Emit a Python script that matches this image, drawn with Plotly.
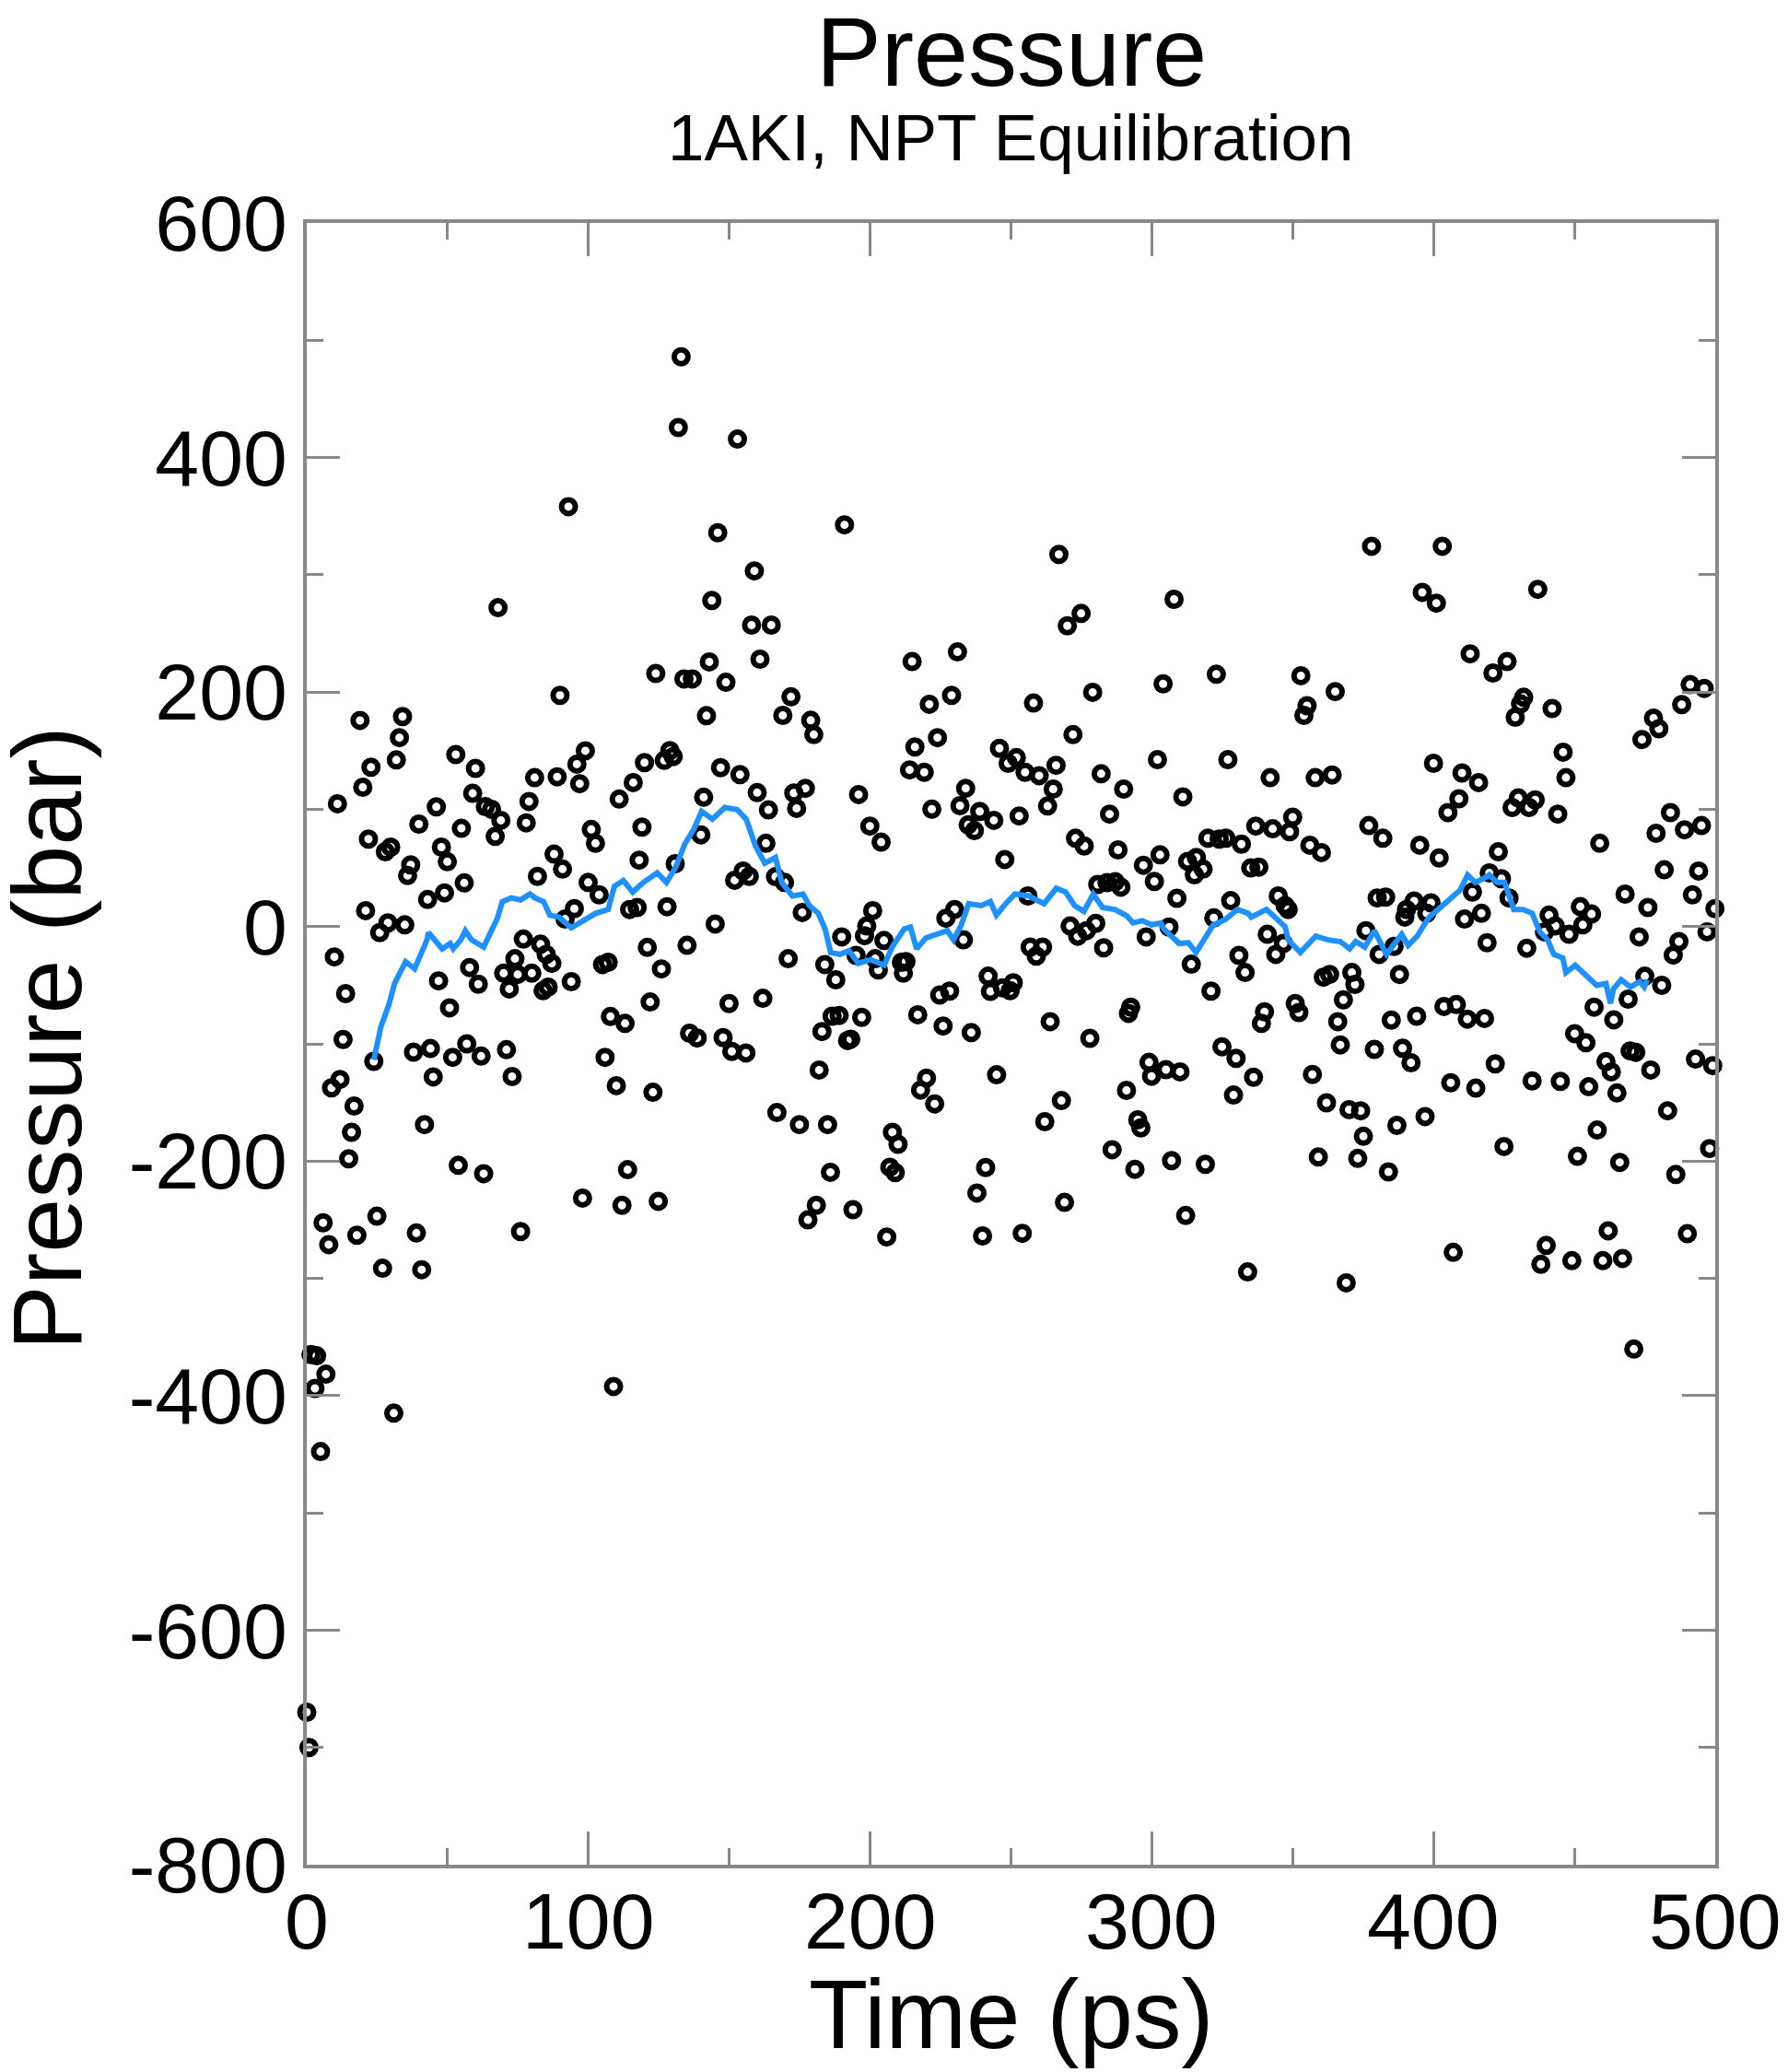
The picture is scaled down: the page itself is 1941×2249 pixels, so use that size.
import plotly.graph_objects as go

# ---- data (time in ps, pressure in bar) ----
time_ps = [
    0, 0.8, 1.5, 3.5, 2.9, 4.9, 5.8, 6.8, 7.8, 8.8, 9.8, 10.9, 11.8, 12.9, 13.8, 14.9, 15.9, 16.8, 17.8, 18.9,
    19.9, 20.9, 21.9, 22.8, 23.8, 24.9, 25.9, 26.9, 27.9, 28.8, 29.8, 30.9, 31.8, 32.9, 34.0, 34.8, 35.8, 36.9,
    37.9, 38.9, 39.8, 40.8, 41.8, 42.9, 43.9, 44.9, 46.0, 46.8, 47.8, 48.9, 49.9, 50.7, 51.8, 52.9, 53.8, 54.9,
    55.9, 56.8, 57.8, 58.9, 59.9, 60.9, 61.9, 62.8, 63.4, 65.6, 66.9, 67.9, 68.9, 69.9, 70.9, 71.9, 72.9, 73.9,
    74.9, 75.9, 76.9, 77.9, 78.9, 79.9, 80.9, 81.9,
    132.9, 131.9, 152.9, 92.9, 145.9, 158.9, 143.8, 157.9, 164.9, 160.9, 142.9, 123.9, 133.9, 136.9, 148.8, 89.9,
    141.9, 98.9, 95.9, 96.9, 88.9, 119.9, 115.9, 110.9, 126.9, 128.9, 130.1, 146.9, 153.8, 159.9, 163.9, 140.9,
    101.0, 102.5, 119.0, 87.8, 90.8, 118.0, 99.9, 103.8, 130.8, 139.9, 163.0, 151.9, 154.9, 157.1, 95.0, 91.7,
    114.6, 117.3, 127.9, 145.0,
    83.0, 85.0, 87.0, 83.9, 85.7, 93.9, 105.0, 107.0, 120.9, 135.0, 125.9, 121.9, 107.8, 113.0, 105.9, 109.9,
    122.9, 135.9, 138.6, 149.9, 161.9, 147.8, 150.9, 155.9, 113.9, 97.9, 111.9, 124.8, 108.9,
    190.9, 214.9, 231.0, 228.9, 221.0, 171.9, 169.0, 178.9, 180.0, 223.9, 215.9, 214.0, 219.2, 245.9, 249.0,
    177.0, 172.9, 173.9, 195.9, 233.9, 231.9, 221.9, 238.9, 243.9, 234.8, 237.0, 199.9, 203.9, 247.8, 166.4,
    169.6, 175.9, 200.9, 230.0, 226.9,
    198.8, 198.0, 189.9, 204.9, 233.1, 170.9, 183.9, 187.8, 195.0, 201.8, 202.9, 211.1, 212.7, 211.8, 241.9,
    242.7, 247.0, 224.7, 228.2, 216.9, 225.9, 235.9, 186.5, 189.0, 197.0, 182.9, 192.0, 193.1, 181.9, 220.0,
    217.9, 222.9, 244.9, 166.9, 174.9, 184.9, 207.9, 209.9, 207.0, 208.9, 185.9, 241.0, 237.9, 180.9, 177.9,
    193.9, 205.9, 239.9,
    267.0, 307.9, 274.9, 270.0, 322.9, 304.0, 279.0, 258.0, 272.0, 251.9, 255.0, 260.0, 266.0, 265.0, 263.0,
    252.9, 282.0, 290.0, 285.0, 302.0, 327.0, 311.0, 272.9, 276.0, 288.0, 319.9, 323.9, 326.3, 331.8, 297.0,
    302.9, 300.9, 312.7, 315.8, 315.1, 318.2, 280.8, 284.1, 287.0, 289.0, 308.9, 328.0, 256.0, 322.0,
    271.0, 280.1, 276.8, 273.7, 306.1, 298.0, 282.9, 256.8, 261.2, 259.0, 250.8, 249.7, 314.0, 321.0, 330.9,
    333.1, 292.5, 291.7, 263.9, 278.0, 299.0, 299.9, 305.0, 310.0, 324.9, 329.9, 329.0, 291.0, 267.9, 262.0,
    295.0, 296.1, 285.9, 294.0, 307.0, 319.0, 269.0, 312.0, 254.0,
    378.0, 403.1, 396.0, 401.0, 413.0, 352.9, 365.1, 355.1, 354.0, 342.0, 358.0, 364.0, 400.0, 410.1, 416.0,
    409.0, 405.1, 350.0, 348.9, 336.9, 342.9, 356.1, 360.2, 377.0, 382.0, 395.1, 402.0, 335.1, 338.0, 344.9,
    347.3, 348.4, 380.0, 383.0, 393.1, 390.4, 389.8, 399.1, 397.6, 413.8, 411.0,
    341.0, 346.7, 344.0, 376.0, 380.7, 386.0, 387.9, 360.9, 363.1, 371.0, 372.1, 368.0, 366.0, 366.9, 350.9,
    352.2, 340.0, 338.9, 385.0, 394.0, 403.7, 408.1, 412.0, 379.0, 389.0, 392.0, 336.1, 357.0, 362.0, 370.0,
    374.1, 375.1, 387.0, 397.0, 406.1, 415.0, 359.1, 373.1, 384.0, 334.0, 369.0, 407.0,
    437.0, 421.1, 426.1, 432.0, 430.9, 429.0, 442.1, 446.0, 447.0, 491.1, 496.1, 488.1, 478.1, 480.0, 474.0,
    430.1, 427.9, 433.9, 436.1, 444.1, 484.1, 479.0, 489.1, 495.1, 459.0, 423.0, 419.8, 424.1, 426.8, 481.9,
    494.1, 417.0, 468.0, 476.1, 491.9, 499.9, 441.0, 443.2, 452.1, 456.1, 453.0,
    439.4, 448.1, 419.0, 433.1, 473.0, 487.1, 485.1, 497.1, 475.0, 481.0, 469.1, 457.0, 464.0, 418.1, 450.1,
    454.1, 469.8, 471.8, 461.2, 463.1, 477.1, 493.0, 499.1, 421.9, 435.0, 445.0, 455.1, 465.1, 483.1, 458.1,
    425.0, 451.1, 466.1, 486.0, 498.0, 462.0, 490.1, 440.0, 438.1, 449.1, 460.1, 467.1, 471.1,
]

pressure_bar = [
    -670, -700, -365, -366, -393.8, -447.7, -252.6, -381.7, -271.2, -137.5, -25.9, 104.7, -130.4, -96.3, -57.2,
    -198.0, -175.4, -153.0, -263.2, 175.8, 118.8, 13.6, 74.6, 135.9, -114.9, -247.0, -5.1, -291.4, 63.8, 3.1,
    67.7, -414.9, 142.1, 161.1, 179.1, 1.5, 43.5, 52.6, -107.1, -261.3, 87.4, -292.6, -168.9, 23.1, -104.0,
    -128.2, 102.1, -46.3, 67.7, 28.7, 55.3, -69.3, -111.5, 146.7, -203.6, 83.8, 37.2, -100.0, -34.9, 113.6,
    134.9, -49.1, -110.5, -210.7, 102.3, 100.0, 76.9, 271.9, 90.6, -39.8, -105.0, -53.2, -127.9, -27.4, -40.8,
    -260.1, -10.7, 88.4, 106.7, -39.8, 127.0, 42.8,
    485.9, 425.6, 415.7, 358.1, 335.8, 303.3, 278.1, 257.1, 257.1, 228.0, 225.7, 215.8, 211.2, 211.2, 208.3,
    197.2, 179.8, 149.9, 138.5, 121.8, 127.7, 139.8, 122.8, 108.7, 141.7, 150.0, 145.0, 135.5, 129.6, 114.2,
    99.5, 110.3, 82.8, 71.0, 84.8, 61.8, 49.0, 56.6, 37.6, 27.1, 53.6, 78.2, 71.0, 39.5, 47.4, 42.8, 15.3,
    6.4, 14.6, 16.3, 16.9, 2.2,
    -15.0, -23.7, -31.4, -54.7, -51.6, -47.0, -32.4, -30.5, -17.8, -16.0, -36.1, -64.3, -76.7, -82.6, -111.5,
    -135.7, -141.3, -91.0, -95.0, -65.6, -61.2, -94.7, -106.5, -107.8, -207.3, -231.5, -237.7, -234.3, -392.2,
    342.6, 226.0, 234.2, 197.2, 189.6, 195.9, 180.1, 175.9, 163.7, 161.1, 153.2, 133.6, 131.6, 152.0, 139.2,
    117.9, 113.9, 100.8, 112.6, 117.9, 103.1, 100.1, 98.2, 90.6, 86.7, 81.8, 85.7, 72.0, 57.2, 42.5, 37.6,
    12.0, 13.6, 14.6, 7.1,
    0.5, -7.8, -8.8, -11.9, -11.3, -27.4, -32.4, -45.4, -24.6, -27.4, -37.0, -30.5, -29.9, -39.8, -42.3,
    -55.3, -52.2, -58.4, -55.0, -75.2, -84.8, -90.4, -76.4, -75.8, -77.4, -89.5, -97.2, -96.0, -122.3, -129.2,
    -139.4, -151.2, -126.4, -158.6, -168.9, -168.9, -175.4, -185.6, -205.2, -209.8, -209.5, -205.5, -227.2,
    -237.7, -250.1, -241.4, -264.7, -263.8,
    317.4, 279.1, 267.0, 256.5, 215.2, 207.0, 199.8, 190.6, 163.7, 144.1, 131.6, 128.7, 137.5, 117.2, 102.8,
    94.3, 130.3, 117.2, 95.9, 142.4, 142.4, 110.6, 75.3, 68.7, 65.4, 75.3, 74.6, 75.3, 70.3, 52.3, 61.2, 38.5,
    55.6, 58.9, 44.1, 49.0, 35.9, 37.5, 38.2, 33.6, 24.1, 22.1, 26.1, 7.4,
    0.5, 2.7, -3.5, -8.2, -0.4, -8.8, -18.1, -17.5, -17.5, -25.2, -47.9, -54.7, -32.1, -55.0, -24.6, -39.2,
    -68.7, -74.0, -81.1, -95.3, -115.8, -127.6, -122.0, -123.9, -102.5, -112.4, -143.7, -139.7, -148.4,
    -166.4, -164.8, -171.7, -190.3, -207.0, -199.6, -202.7, -235.2, -246.4, -261.6,
    324.3, 324.3, 285.0, 275.8, 232.6, 213.9, 200.4, 188.3, 180.1, 127.0, 127.0, 129.3, 139.2, 131.0, 122.8,
    109.0, 97.2, 93.3, 80.8, 85.7, 83.4, 69.4, 63.1, 86.1, 75.3, 69.4, 58.5, 50.0, 50.7, 26.1, 17.9, 14.6,
    24.4, 25.1, 21.8, 14.6, 8.1, 20.2, 11.3, 29.4, 6.4,
    -6.6, -14.4, -23.7, -3.5, -23.7, -16.9, -40.8, -43.2, -40.8, -39.2, -49.4, -62.5, -81.1, -100.9, -65.6,
    -73.3, -72.7, -82.6, -79.8, -76.4, -68.1, -66.5, -78.9, -104.7, -103.7, -116.1, -128.5, -126.1, -150.3,
    -156.1, -157.1, -178.8, -169.5, -162.0, -133.2, -137.8, -196.5, -197.7, -209.2, -294.5, -303.8, -277.8,
    287.6, 216.2, 226.0, 195.5, 189.9, 178.5, 186.0, 148.7, 127.0, 206.3, 203.1, 189.3, 177.8, 168.7, 159.5,
    109.7, 101.5, 101.5, 108.0, 95.9, 97.2, 79.5, 82.5, 86.1, 71.0, 63.8, 45.8, 40.8, 24.4, 48.4, 47.4, 11.3,
    27.7, 16.3, 27.1, 15.3, 9.7, 0.6, 17.0, 10.7, 1.5,
    -4.5, -6.6, -13.8, -18.4, -8.8, -12.8, -24.3, -4.5, -42.3, -50.1, -61.9, -68.7, -79.5, -78.3, -91.3,
    -99.1, -106.0, -107.2, -115.2, -123.9, -122.3, -113.0, -118.6, -117.1, -131.6, -132.0, -136.6, -141.9,
    -157.1, -173.5, -187.5, -195.9, -201.1, -211.4, -189.3, -259.4, -261.9, -271.9, -288.0, -284.9, -284.9,
    -283.0, -360.3,
]

# running average (blue curve)
avg_time_ps = [
    23.8, 26.3, 29.1, 31.2, 35.1, 38.3, 42.7, 43.2, 48.1, 50.9, 52, 54.7, 56.3, 58.5, 62.8, 65.6, 67.7, 69.4,
    72.6, 75.9, 79.2, 81, 84.1, 86.3, 89.5, 93.9, 97.2, 102.6, 107, 109.2, 112.4, 115.7, 119.5, 124.4, 127.7,
    131, 134.2, 137.5, 140.2, 144, 148.4, 152.8, 156, 159.3, 162.6, 166.4, 168.6, 172.4, 176.2, 178.4, 181.6,
    184, 186, 189.3, 192.5, 195.8, 200.2, 205, 207.8, 212.1, 214.3, 216.5, 219.8, 224.1, 227.4, 229.6, 232.3,
    235, 239.4, 242.7, 244.8, 248.1, 251.4, 256.3, 261.7, 266.1, 269.4, 272.6, 275.9, 279.2, 282.5, 286.8,
    291.2, 293.3, 296.6, 299.9, 303.2, 304.2, 309.7, 313, 315.7, 321.7, 326, 330.4, 334.2, 335.3, 340.7, 347.3,
    348.4, 352.7, 358.2, 362.5, 366.9, 370.2, 372.4, 375.6, 379, 383.3, 388.7, 391, 394.2, 397.4, 398.5, 404,
    409.4, 412.1, 414.8, 417.6, 419.8, 422.5, 425.2, 428.5, 431.8, 435, 437.7, 440.5, 442.7, 445.9, 447,
    450.3, 453.5, 457.9, 461.2, 462.8, 463.9, 466.6, 469.9, 473.2, 474.8, 475.9,
]
avg_pressure_bar = [
    -113.6, -85.7, -67, -48.5, -29.9, -36, -11.3, -5.1, -19, -14.4, -19, -11.3, -3.5, -11.3, -17.5, -3.5, 7.3,
    21.2, 24.5, 22.8, 27.7, 24.5, 21.2, 9.7, 8.1, -1.1, 3.2, 11.3, 14.6, 34.3, 39.2, 29.4, 37.6, 45.8, 37.6,
    50.7, 70.3, 83.4, 98.2, 91.6, 101.5, 99.8, 91.6, 68.7, 54, 58.9, 37.6, 26.1, 27.7, 17.9, 11.3, -2, -22.1,
    -23.7, -20.6, -31.4, -28.3, -33, -17.5, -2, -0.4, -19, -9.7, -6.6, -3.5, -11.3, 1.1, 19.5, 17.9, 21.2, 9.7,
    19.5, 27.7, 26.1, 19.5, 32.7, 29.4, 17.9, 13, 27.7, 16.3, 14.6, 9, 3.2, 5, 1.5, 3, -2, -14.4, -13.8, -22.1,
    1.1, 6, 14.6, 11.3, 8.1, 14.6, -0.1, -11.3, -22.1, -8.2, -11.3, -12.8, -19, -12.8, -17.5, -3.5, -23.7,
    -6.6, -16, -8.2, 4.2, 8.1, 19.5, 31, 44, 37.6, 40.8, 44.1, 37.6, 37.6, 14.6, 14.6, 11.3, -4.4, -11.3, -23.7,
    -26.8, -39.2, -33, -40.8, -50.1, -48.5, -65.6, -53.2, -45.4, -51.6, -47, -51.6, -45.4,
]

x_tick_vals = [0, 100, 200, 300, 400, 500]
x_tick_text = ["0", "100", "200", "300", "400", "500"]
y_tick_vals = [-800, -600, -400, -200, 0, 200, 400, 600]
y_tick_text = ["-800", "-600", "-400", "-200", "0", "200", "400", "600"]

title_text = "Pressure"
subtitle_text = "1AKI, NPT Equilibration"
x_title = "Time (ps)"
y_title = "Pressure (bar)"

FONT = "Liberation Sans, Arial, Helvetica, sans-serif"
GREY = "#888888"

fig = go.Figure()
fig.add_trace(go.Scatter(
    x=time_ps, y=pressure_bar, mode="markers", cliponaxis=False,
    marker=dict(symbol="circle-open", size=15, color="black", line=dict(width=6, color="black")),
    showlegend=False,
))
fig.add_trace(go.Scatter(
    x=avg_time_ps, y=avg_pressure_bar, mode="lines", cliponaxis=False,
    line=dict(color="#1E90FF", width=6), showlegend=False,
))

axis_common = dict(
    ticks="inside", ticklen=36, tickwidth=3, tickcolor=GREY,
    showline=True, linecolor=GREY, linewidth=4, mirror="ticks",
    showgrid=False, zeroline=False,
    tickfont=dict(family=FONT, size=86, color="black"),
)
fig.update_xaxes(range=[0, 500], tickmode="array", tickvals=x_tick_vals, ticktext=x_tick_text,
                 showticklabels=False,
                 minor=dict(ticks="inside", ticklen=18, tickwidth=3, tickcolor=GREY, dtick=50, showgrid=False),
                 **axis_common)
fig.update_yaxes(range=[-800, 600], tickmode="array", tickvals=y_tick_vals, ticktext=y_tick_text,
                 minor=dict(ticks="inside", ticklen=18, tickwidth=3, tickcolor=GREY, dtick=100, showgrid=False),
                 **axis_common)

L, R, T, B = 333, 79, 242, 225
W, H = 1941, 2249
ph = H - T - B


def ypix(p):
    return (H - B - p) / ph


annotations = [
    dict(text=title_text, xref="paper", yref="paper", x=0.5, y=ypix(56),
         xanchor="center", yanchor="middle", showarrow=False, font=dict(size=106)),
    dict(text=subtitle_text, xref="paper", yref="paper", x=0.5, y=ypix(149),
         xanchor="center", yanchor="middle", showarrow=False, font=dict(size=71)),
    dict(text=x_title, xref="paper", yref="paper", x=0.5, y=ypix(2186),
         xanchor="center", yanchor="middle", showarrow=False, font=dict(size=105)),
    dict(text=y_title, xref="paper", yref="paper", x=(51 - L) / (W - L - R), y=0.503,
         xanchor="center", yanchor="middle", textangle=-90, showarrow=False, font=dict(size=106)),
]
for v, t in zip(x_tick_vals, x_tick_text):
    annotations.append(dict(text=t, xref="x", yref="paper", x=v, y=ypix(2085),
                            xanchor="center", yanchor="middle", showarrow=False,
                            font=dict(size=86)))

fig.update_layout(
    width=W, height=H, autosize=False,
    margin=dict(l=L, r=R, t=T, b=B, pad=0),
    plot_bgcolor="white", paper_bgcolor="white",
    font=dict(family=FONT, color="black"),
    annotations=annotations,
)

fig.write_html("out.html")
